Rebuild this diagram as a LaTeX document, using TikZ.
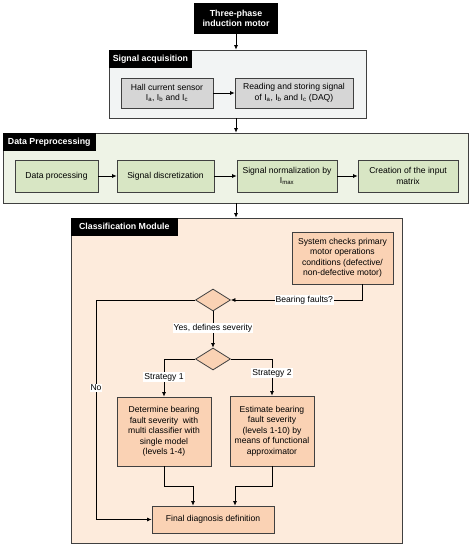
\documentclass[tikz,border=0pt]{standalone}
\usepackage{fontspec}
\setmainfont{Liberation Sans}
\usetikzlibrary{arrows.meta,shapes.geometric,calc}
\definecolor{bordc}{HTML}{404040}
\definecolor{saback}{HTML}{F2F4F4}
\definecolor{sabox}{HTML}{D6D6D6}
\definecolor{dpback}{HTML}{EEF3E6}
\definecolor{dpbox}{HTML}{D8E6C4}
\definecolor{cmback}{HTML}{FDEBDC}
\definecolor{cmbox}{HTML}{FAD2B4}
\begin{document}
\begin{tikzpicture}[x=1pt,y=-1pt,
  every node/.style={font=\fontsize{8.6}{10.5}\selectfont, inner sep=1pt},
  container/.style={draw=bordc, line width=0.8pt, rectangle},
  tabbox/.style={fill=black, text=white, font=\fontsize{8.8}{10.5}\selectfont\bfseries, anchor=north west, minimum height=18pt, align=left, inner sep=4pt},
  procbox/.style={draw=bordc, line width=0.8pt, rectangle, align=center},
  decision/.style={diamond, draw=bordc, line width=0.8pt, fill=cmbox, minimum width=35pt, minimum height=22pt, inner sep=0pt, aspect=1.6},
  arr/.style={draw=black, line width=0.7pt, -{Latex[length=4.5pt,width=4pt]}},
  line/.style={draw=black, line width=0.7pt},
  lbl/.style={fill=white, inner sep=1pt, font=\fontsize{8.6}{10.5}\selectfont}
]
\useasboundingbox (0,0) rectangle (474,551);
\fill[white] (0,0) rectangle (474,551);

% motor
\node[fill=black, text=white, font=\fontsize{8.8}{10.5}\selectfont\bfseries, align=center, minimum width=84pt, minimum height=31pt] (motor) at (236,18.5) {Three-phase\\induction motor};

% signal acquisition
\node[container, fill=saback, minimum width=257pt, minimum height=68pt] (sa) at (237.5,84) {};
\node[tabbox, minimum width=81pt] (satab) at (sa.north west) {Signal acquisition};
\node[procbox, fill=sabox, minimum width=92pt, minimum height=30pt] (hall) at (167,93) {Hall current sensor\\I\textsubscript{a}, I\textsubscript{b} and I\textsubscript{c}};
\node[procbox, fill=sabox, minimum width=118pt, minimum height=30pt] (read) at (294,93) {Reading and storing signal\\of I\textsubscript{a}, I\textsubscript{b} and I\textsubscript{c} (DAQ)};

% data preprocessing
\node[container, fill=dpback, minimum width=465pt, minimum height=70pt] (dp) at (235.5,168) {};
\node[tabbox, minimum width=93pt] (dptab) at (dp.north west) {Data Preprocessing};
\node[procbox, fill=dpbox, minimum width=83pt, minimum height=32pt] (dproc) at (56.5,176) {Data processing};
\node[procbox, fill=dpbox, minimum width=97pt, minimum height=32pt] (disc) at (165.5,176) {Signal discretization};
\node[procbox, fill=dpbox, minimum width=100pt, minimum height=32pt] (norm) at (287,176) {Signal normalization by\\I\textsubscript{max}};
\node[procbox, fill=dpbox, minimum width=100pt, minimum height=32pt] (creat) at (408,176) {Creation of the input\\matrix};

% classification module
\node[container, fill=cmback, minimum width=331pt, minimum height=325pt] (cm) at (236.5,380.5) {};
\node[tabbox, minimum width=107pt] (cmtab) at (cm.north west) {Classification Module};
\node[procbox, fill=cmbox, minimum width=101pt, minimum height=52pt] (sys) at (342.5,258) {System checks primary\\motor operations\\conditions (defective/\\non-defective motor)};
\node[decision] (d1) at (213,300) {};
\node[decision] (d2) at (213,359) {};
\node[procbox, fill=cmbox, minimum width=94pt, minimum height=69pt] (b1) at (164,431.5) {Determine bearing\\fault severity\ \ with\\multi classifier with\\single model\\(levels 1-4)};
\node[procbox, fill=cmbox, minimum width=84pt, minimum height=70pt] (b2) at (272,431) {Estimate bearing\\fault severity\\(levels 1-10) by\\means of functional\\approximator};
\node[procbox, fill=cmbox, minimum width=122pt, minimum height=27pt] (fin) at (213,519.5) {Final diagnosis definition};
\coordinate (nocorner) at (96,300);

% connectors
\draw[arr] (motor.south) -- (motor.south |- sa.north);
\draw[arr] (hall.east) -- (read.west);
\draw[arr] (motor.south |- sa.south) -- (motor.south |- dp.north);
\draw[arr] (dproc.east) -- (disc.west);
\draw[arr] (disc.east) -- (norm.west);
\draw[arr] (norm.east) -- (creat.west);
\draw[arr] (motor.south |- dp.south) -- (motor.south |- cm.north);
\draw[arr] ([xshift=19.5pt]sys.south) |- node[lbl, pos=0.72] {Bearing faults?} (d1.east);
\draw[arr] (d1.west) -- (nocorner) |- node[lbl, pos=0.2] {No} (fin.west);
\draw[arr] (d1.south) -- node[lbl, pos=0.46] {Yes, defines severity} (d2.north);
\draw[arr] (d2.west) -| node[lbl, pos=0.74] {Strategy 1} (b1.north);
\draw[arr] (d2.east) -| node[lbl, pos=0.69] {Strategy 2} (b2.north);
\draw[arr] (b1.south) -- ++(0,20) -| ([xshift=-20pt]fin.north);
\draw[arr] (b2.south) -- ++(0,20) -| ([xshift=22pt]fin.north);
\end{tikzpicture}
\end{document}
